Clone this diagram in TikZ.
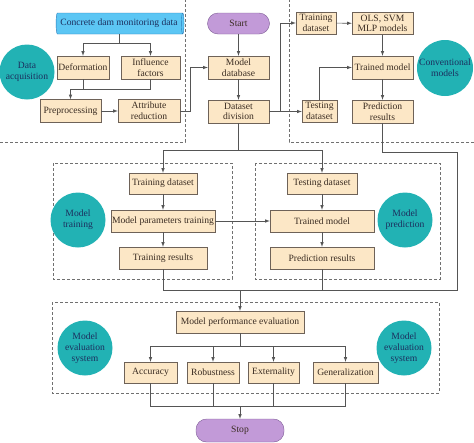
\documentclass[tikz,border=0pt]{standalone}
\usepackage{fontspec}
\setmainfont{Liberation Serif}
\usetikzlibrary{shapes.geometric,positioning}
\definecolor{boxfill}{HTML}{FCE7C6}
\definecolor{boxline}{HTML}{6E6258}
\definecolor{boxtext}{HTML}{3A2C22}
\definecolor{blobfill}{HTML}{22B2B4}
\definecolor{blobtext}{HTML}{1C2F5E}
\definecolor{termfill}{HTML}{C29AD8}
\definecolor{termline}{HTML}{7E5C96}
\definecolor{cylfill}{HTML}{5CC6F4}
\definecolor{cylline}{HTML}{2B7BB9}
\definecolor{linkgray}{HTML}{555555}
\definecolor{dashgray}{HTML}{707070}
\begin{document}
\begin{tikzpicture}[x=1pt, y=-1pt, >=latex, node distance=44pt,
  font=\fontsize{9.6}{10.6}\selectfont,
  box/.style={draw=boxline, fill=boxfill, rectangle, align=center, inner sep=1pt, minimum height=23pt, text=boxtext},
  blob/.style={circle, fill=blobfill, minimum size=55pt, inner sep=0pt, align=center, text=blobtext, font=\fontsize{9.6}{11}\selectfont},
  term/.style={draw=termline, fill=termfill, rectangle, rounded corners=10.5pt, minimum height=21pt, text=boxtext},
  link/.style={linkgray, line width=0.6pt},
  zone/.style={dashgray, dashed, line width=0.6pt, dash pattern=on 3pt off 2pt}]
  \useasboundingbox (0,0) rectangle (474,442);

  % frames
  \draw[zone] (0,142) -- (185,142) -- (185,0);
  \draw[zone] (474,142) -- (289,142) -- (289,0);
  \draw[zone] (53,163) rectangle (232,279);
  \draw[zone] (255,163) rectangle (440,279);
  \draw[zone] (52,302) rectangle (439,393);

  % data acquisition
  \node[shape=cylinder, shape border rotate=0, aspect=0.25, draw=cylline, fill=cylfill, minimum height=128pt, minimum width=21pt, inner sep=1pt, text=blobtext] (dam) at (119,23.5) {Concrete dam monitoring data};
  \node[blob] (acq) at (27,72) {Data\\acquisition};
  \node[box, minimum width=52pt] (deform) at (83,67.5) {Deformation};
  \node[box, minimum width=59pt] (influ) at (150.5,67.5) {Influence\\factors};
  \node[box, minimum width=61pt] (prep) at (70.5,111) {Preprocessing};
  \node[box, minimum width=62pt] (attr) at (149,111) {Attribute\\reduction};

  % main line
  \node[term, minimum width=62pt] (start) at (238.5,23.5) {Start};
  \node[box, minimum width=61pt, below of=start] (mdb) {Model\\database};
  \node[box, minimum width=61pt, below of=mdb] (ddiv) {Dataset\\division};

  % conventional models
  \node[box, minimum width=40pt, minimum height=22pt] (ctrain) at (316,23) {Training\\dataset};
  \node[box, minimum width=61pt, minimum height=22pt] (ols) at (382.5,23.5) {OLS, SVM\\MLP models};
  \node[box, minimum width=61pt, below of=ols] (ctrained) {Trained model};
  \node[box, minimum width=61pt, below of=ctrained] (cpred) {Prediction\\results};
  \node[box, minimum width=35pt, minimum height=22pt] (ctest) at (319.5,111) {Testing\\dataset};
  \node[blob, minimum size=56pt] (conv) at (445,68) {Conventional\\models};

  % model training
  \node[box, minimum width=68pt, minimum height=21pt] (trainset) at (163,183.5) {Training dataset};
  \node[box, minimum width=104pt, minimum height=22pt, below of=trainset, node distance=37.5pt] (params) {Model parameters training};
  \node[box, minimum width=88pt, minimum height=22pt, below of=params, node distance=37pt] (trainres) {Training results};
  \node[blob] (mtrain) at (78,220) {Model\\training};

  % model prediction
  \node[box, minimum width=70pt, minimum height=21pt] (testset) at (322,183.5) {Testing dataset};
  \node[box, minimum width=104pt, minimum height=22pt, below of=testset, node distance=37.5pt] (trained) {Trained model};
  \node[box, minimum width=104pt, minimum height=22pt, below of=trained, node distance=37pt] (predres) {Prediction results};
  \node[blob] (mpred) at (405,220) {Model\\prediction};

  % evaluation
  \node[box, minimum width=128pt, minimum height=22pt] (perf) at (240,322) {Model performance evaluation};
  \node[box, minimum width=53pt, minimum height=21pt] (acc) at (150.5,372.5) {Accuracy};
  \node[box, minimum width=52pt, minimum height=21pt] (rob) at (213,372.5) {Robustness};
  \node[box, minimum width=51pt, minimum height=21pt] (ext) at (273.5,372.5) {Externality};
  \node[box, minimum width=65pt, minimum height=21pt] (gen) at (345.5,372.5) {Generalization};
  \node[blob] (evall) at (85,348) {Model\\evaluation\\system};
  \node[blob] (evalr) at (404,348) {Model\\evaluation\\system};
  \node[term, minimum width=88pt, minimum height=23pt] (stop) at (240,430.5) {Stop};

  \coordinate (split) at (238.5,150);
  \coordinate (rbend) at (457,290);
  \coordinate (merge) at (240,290);
  \coordinate (join) at (240,406);

  % connectors
  \draw[link,->] (dam.south) -- ++(0,9.5) -| (deform.north);
  \draw[link,->] (dam.south) -- ++(0,9.5) -| (influ.north);
  \draw[link] (deform.south) -- ++(0,10);
  \draw[link,->] (influ.south) -- ++(0,10) -| (prep.north);
  \draw[link,->] (prep) -- (attr);
  \draw[link,->] (attr.east) -- ++(10,0) |- (mdb.west);
  \draw[link,->] (start) -- (mdb);
  \draw[link,->] (mdb) -- (ddiv);
  \draw[link,->] (ddiv.east) -- ++(11,0) |- (ctrain.west);
  \draw[link,->] (ddiv.east) -- (ddiv.east -| ctest.west);
  \draw[link,->] (ctrain) -- (ols);
  \draw[link,->] (ols) -- (ctrained);
  \draw[link,->] (ctrained) -- (cpred);
  \draw[link,->] (ctest.north) |- (ctrained.west);

  \draw[link] (ddiv.south) -- (split);
  \draw[link,->] (split) -| (trainset.north);
  \draw[link,->] (split) -| (testset.north);
  \draw[link,->] (trainset) -- (params);
  \draw[link,->] (params) -- (trainres);
  \draw[link,->] (testset) -- (trained);
  \draw[link,->] (trained) -- (predres);
  \draw[link,->] (params.east) -- (trained.west);

  \draw[link] (cpred.south) -- ++(0,29) -| (rbend) -- (merge);
  \draw[link] (trainres.south) |- (merge);
  \draw[link] (predres.south) |- (merge);
  \draw[link,->] (merge) -- (perf.north);

  \foreach \n in {acc,rob,ext,gen}
    \draw[link,->] (perf.south) -- ++(0,13) -| (\n.north);
  \foreach \n in {acc,rob,ext,gen}
    \draw[link] (\n.south) |- (join);
  \draw[link,->] (join) -- (stop.north);
\end{tikzpicture}
\end{document}
